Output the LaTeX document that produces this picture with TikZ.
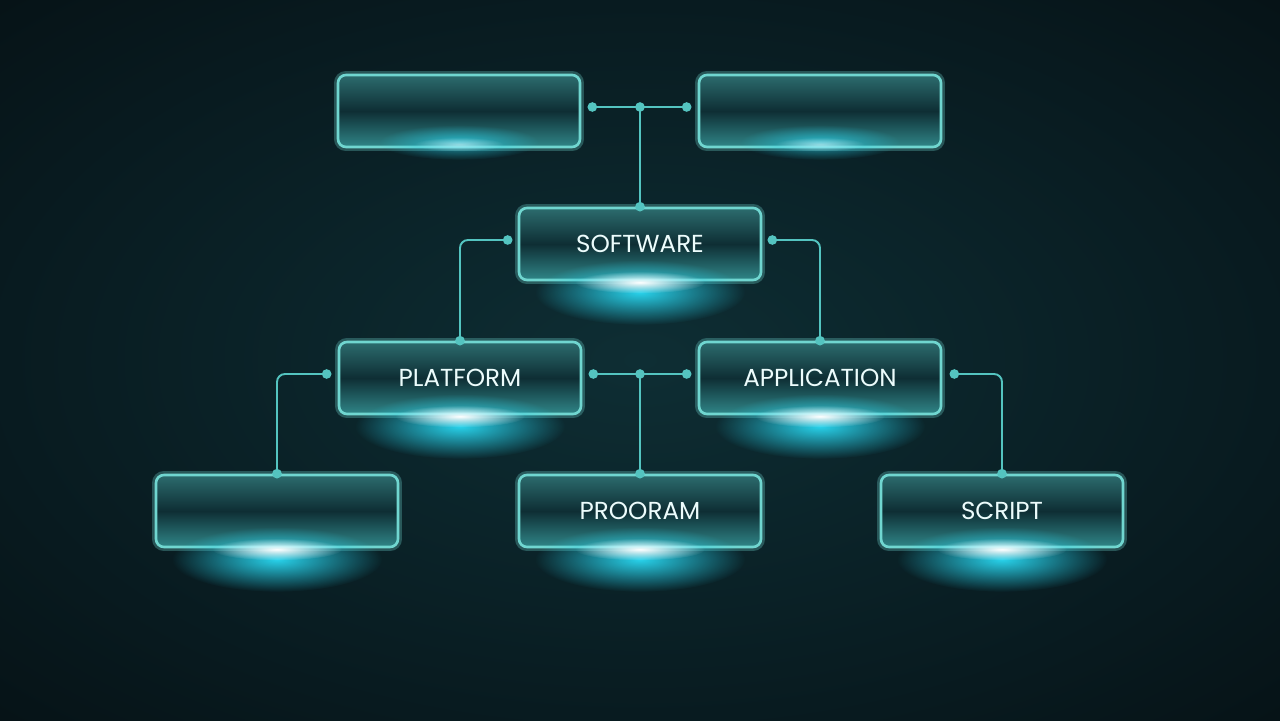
\documentclass[tikz,border=0pt]{standalone}
\usepackage{fontspec}
\setmainfont{Poppins}
\usetikzlibrary{arrows.meta,fadings}

\definecolor{bgin}{RGB}{14,46,52}
\definecolor{bgmid}{RGB}{8,26,31}
\definecolor{bgout}{RGB}{3,8,10}
\definecolor{boxline}{RGB}{112,214,208}
\definecolor{boxtop}{RGB}{44,108,110}
\definecolor{boxmid}{RGB}{14,46,52}
\definecolor{boxbot}{RGB}{48,134,136}
\definecolor{linkc}{RGB}{84,196,192}
\definecolor{glowc}{RGB}{40,210,235}
\definecolor{labelc}{RGB}{236,252,252}

\pgfdeclareradialshading{bgglow}{\pgfpoint{0bp}{0bp}}{color(0bp)=(bgin); color(26bp)=(bgmid); color(50bp)=(bgout)}
\tikzfading[name=glowfade, inner color=transparent!0, outer color=transparent!100]

\tikzset{
  box/.style={rectangle, rounded corners=0.16cm, minimum width=4.84cm, minimum height=1.44cm,
    draw=boxline, line width=1.5pt, top color=boxtop, bottom color=boxbot, middle color=boxmid,
    text=labelc, font=\fontsize{14}{16}\selectfont,
    preaction={draw=boxline, line width=4.5pt, draw opacity=0.3}},
  link/.style={draw=linkc, line width=1.1pt, rounded corners=0.16cm, >={Circle[length=0.19cm]}, <->,
    shorten <=-0.095cm, shorten >=-0.095cm},
}

\begin{document}
\begin{tikzpicture}
    \useasboundingbox (0,0) rectangle (25.6,14.4);
    \shade[shading=bgglow] (0,0) rectangle (25.6,14.4);

    \node[box] (TL) at (9.18,12.18) {};
    \node[box] (TR) at (16.40,12.18) {};
    \node[box] (SW) at (12.80,9.52) {SOFTWARE};
    \node[box] (PL) at (9.20,6.84) {PLATFORM};
    \node[box] (AP) at (16.40,6.84) {APPLICATION};
    \node[box] (BL) at (5.54,4.18) {};
    \node[box] (PG) at (12.80,4.18) {PROORAM};
    \node[box] (SC) at (20.04,4.18) {SCRIPT};

    % glow under the boxes
    \foreach \n in {SW,PL,AP,BL,PG,SC} {
      \fill[glowc, path fading=glowfade] ([yshift=-0.22cm]\n.south) ellipse (2.1cm and 0.65cm);
      \fill[white, path fading=glowfade] ([yshift=-0.02cm]\n.south) ellipse (1.3cm and 0.22cm);
    }
    \foreach \n in {TL,TR} {
      \fill[glowc, path fading=glowfade, fill opacity=0.7] ([yshift=0.12cm]\n.south) ellipse (1.6cm and 0.35cm);
      \fill[white, path fading=glowfade, fill opacity=0.5] ([yshift=0.08cm]\n.south) ellipse (0.9cm and 0.14cm);
    }

    \coordinate (TLr) at ([xshift=0.22cm,yshift=0.08cm]TL.east);
    \coordinate (TRl) at ([xshift=-0.22cm,yshift=0.08cm]TR.west);
    \coordinate (SWl) at ([xshift=-0.2cm,yshift=0.08cm]SW.west);
    \coordinate (SWr) at ([xshift=0.2cm,yshift=0.08cm]SW.east);
    \coordinate (PLl) at ([xshift=-0.22cm,yshift=0.08cm]PL.west);
    \coordinate (PLr) at ([xshift=0.22cm,yshift=0.08cm]PL.east);
    \coordinate (APl) at ([xshift=-0.22cm,yshift=0.08cm]AP.west);
    \coordinate (APr) at ([xshift=0.24cm,yshift=0.08cm]AP.east);

    \draw[link] (TLr) -- (TRl);
    \draw[link] (TLr -| SW.north) -- (SW.north);
    \draw[link] (SWl) -| (PL.north);
    \draw[link] (SWr) -| (AP.north);
    \draw[link] (PLl) -| (BL.north);
    \draw[link] (PLr) -- (APl);
    \draw[link] (PLr -| PG.north) -- (PG.north);
    \draw[link] (APr) -| (SC.north);
\end{tikzpicture}
\end{document}
